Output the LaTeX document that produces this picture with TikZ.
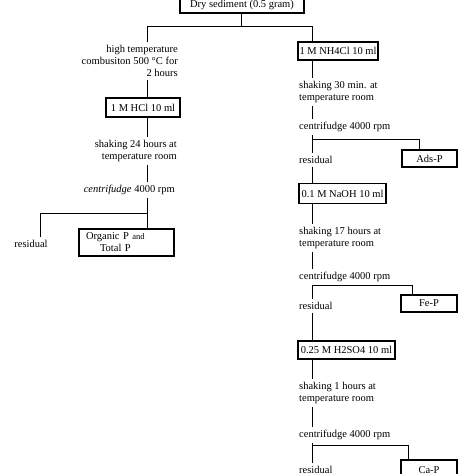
\documentclass[tikz,border=0pt]{standalone}
\usepackage{fontspec}
\setmainfont{Liberation Serif}
\begin{document}
\begin{tikzpicture}[x=1pt,y=-1pt,
  box/.style={draw, line width=1.1pt, inner sep=0pt, font=\fontsize{10.5}{12}\selectfont},
  txt/.style={inner xsep=0pt, inner ysep=3pt, font=\fontsize{10.5}{12}\selectfont},
  ln/.style={line width=0.9pt}]
\useasboundingbox (0,0) rectangle (474,474);
\fill[white] (0,0) rectangle (474,474);
% spines
\coordinate (sL) at (147,0);
\coordinate (sR) at (312,0);
% boxes
\node[box, minimum width=124pt, minimum height=17pt] (dry) at (242,4.5) {Dry sediment (0.5 gram)};
\node[box, minimum width=74pt, minimum height=19pt] (hcl) at (143,107.5) {1 M HCl 10 ml};
\node[box, minimum width=80pt, minimum height=18pt] (nh4) at (338,51) {1 M NH4Cl 10 ml};
\node[box, minimum width=55pt, minimum height=17pt] (ads) at (429.5,158.5) {Ads-P};
\node[box, minimum width=87pt, minimum height=20pt] (naoh) at (342.5,193.5) {0.1 M NaOH 10 ml};
\node[box, minimum width=56pt, minimum height=17pt] (fep) at (429,303.5) {Fe-P};
\node[box, minimum width=97pt, minimum height=18pt] (hso) at (346.5,350) {0.25 M H2SO4 10 ml};
\node[box, minimum width=56pt, minimum height=20pt] (cap) at (429,470) {Ca-P};
\node[box, minimum height=27pt, inner xsep=7pt, text width=81pt, align=left] (org) at (126.5,242.5)
  {Organic P {\fontsize{8.5}{12}\selectfont and}\\\hspace*{14pt}Total P};
% left texts
\node[txt, anchor=east, align=right] (t1) at (178,61) {high temperature\\combusiton 500 °C for\\2 hours};
\node[txt, anchor=east, align=right] (t2) at (177,151) {shaking 24 hours at\\temperature room};
\node[txt, anchor=east] (t3) at (175,190) {\textit{centrifudge} 4000 rpm};
\node[txt] (res1) at (31,244) {residual};
% right texts
\node[txt, anchor=west, align=left] (r1) at (299,92) {shaking 30 min. at\\temperature room};
\node[txt, anchor=west] (r2) at (299,127) {centrifudge 4000 rpm};
\node[txt, anchor=west] (r3) at (299,160) {residual};
\node[txt, anchor=west, align=left] (r4) at (299,238) {shaking 17 hours at\\temperature room};
\node[txt, anchor=west] (r5) at (299,277) {centrifudge 4000 rpm};
\node[txt, anchor=west] (r6) at (299,306) {residual};
\node[txt, anchor=west, align=left] (r7) at (299,393) {shaking 1 hours at\\temperature room};
\node[txt, anchor=west] (r8) at (299,435) {centrifudge 4000 rpm};
\node[txt, anchor=west] (r9) at (299,470) {residual};
% junctions
\coordinate (jt) at (241,26);
\coordinate (jL) at (147,213);
\coordinate (bL) at (40,213);
\coordinate (jR1) at (312,139);
\coordinate (bR1) at (419,139);
\coordinate (jR2) at (312,285);
\coordinate (bR2) at (412,285);
\coordinate (jR3) at (312,445);
\coordinate (bR3) at (408,445);
% top connectors
\draw[ln] (dry.south -| jt) -- (jt);
\draw[ln] (jt -| sL) -- (jt -| sR);
% left column
\draw[ln] (jt -| sL) -- (t1.north -| sL);
\draw[ln] (t1.south -| sL) -- (hcl.north -| sL);
\draw[ln] (hcl.south -| sL) -- (t2.north -| sL);
\draw[ln] (t2.south -| sL) -- (t3.north -| sL);
\draw[ln] (t3.south -| sL) -- (jL);
\draw[ln] (jL) -- (bL) -- (bL |- res1.north);
\draw[ln] (jL) -- (jL |- org.north);
% right column
\draw[ln] (jt -| sR) -- (nh4.north -| sR);
\draw[ln] (nh4.south -| sR) -- (r1.north -| sR);
\draw[ln] (r1.south -| sR) -- (r2.north -| sR);
\draw[ln] (r2.south -| sR) -- (jR1);
\draw[ln] (jR1) -- (bR1) -- (bR1 |- ads.north);
\draw[ln] (jR1) -- (r3.north -| sR);
\draw[ln] (r3.south -| sR) -- (naoh.north -| sR);
\draw[ln] (naoh.south -| sR) -- (r4.north -| sR);
\draw[ln] (r4.south -| sR) -- (r5.north -| sR);
\draw[ln] (r5.south -| sR) -- (jR2);
\draw[ln] (jR2) -- (bR2) -- (bR2 |- fep.north);
\draw[ln] (jR2) -- (r6.north -| sR);
\draw[ln] (r6.south -| sR) -- (hso.north -| sR);
\draw[ln] (hso.south -| sR) -- (r7.north -| sR);
\draw[ln] (r7.south -| sR) -- (r8.north -| sR);
\draw[ln] (r8.south -| sR) -- (jR3);
\draw[ln] (jR3) -- (bR3) -- (bR3 |- cap.north);
\draw[ln] (jR3) -- (r9.north -| sR);
\end{tikzpicture}
\end{document}
